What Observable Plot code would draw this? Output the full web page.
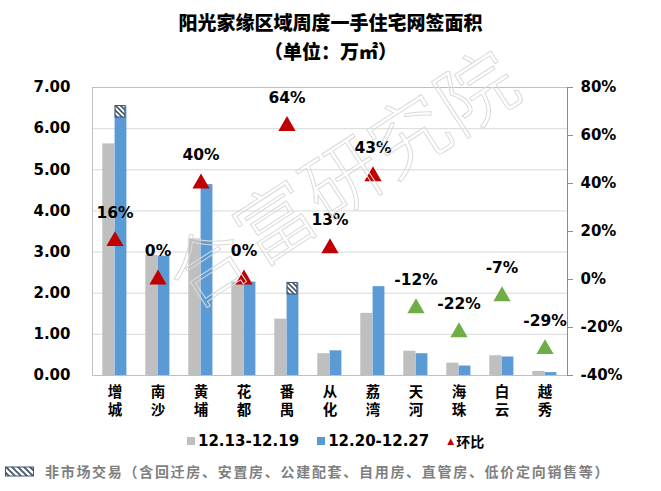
<!DOCTYPE html>
<html>
<head>
<meta charset="utf-8">
<script src="https://cdn.jsdelivr.net/npm/d3@7"></script>
<script src="https://cdn.jsdelivr.net/npm/@observablehq/plot@0.6"></script>
<style>
  html, body { margin: 0; padding: 0; background: #fff; }
  #wrap { position: relative; width: 661px; height: 491px; overflow: hidden; font-family: "DejaVu Sans", "Noto Sans CJK SC", sans-serif; }
  .title { position: absolute; left: 0; width: 661px; text-align: center; font-family: "Noto Sans CJK SC", sans-serif; font-weight: 900; font-size: 19px; color: #000; }
  #legend { position: absolute; top: 431px; left: 187px; font-weight: bold; font-size: 15px; white-space: nowrap; display: flex; align-items: center; }
  #legend .sw { display: inline-block; width: 8px; height: 8px; margin-right: 3px; }
  #legend .item { display: flex; align-items: center; margin-right: 18px; }
  #legend .cjk { font-family: "Noto Sans CJK SC", sans-serif; font-size: 14px; }
  #foot { position: absolute; top: 461px; left: 5px; display: flex; align-items: center; font-family: "Noto Sans CJK SC", sans-serif; font-weight: bold; font-size: 14px; color: #7f7f7f; letter-spacing: 1.7px; white-space: nowrap; }
  #watermark { position: absolute; left: 140px; top: 118px; transform: rotate(-33deg); transform-origin: 50% 50%; font-family: "Noto Sans CJK SC", sans-serif; font-size: 78px; font-weight: 300; color: transparent; -webkit-text-stroke: 1px #dadada; white-space: nowrap; pointer-events: none; letter-spacing: 2px; }
  #chart { position: absolute; left: 0; top: 0; }
</style>
</head>
<body>
<div id="wrap">
  <div id="chart"></div>
  <div class="title" style="top:8px">阳光家缘区域周度一手住宅网签面积</div>
  <div class="title" style="top:37px">（单位：万㎡）</div>
  <div id="watermark">合富研究院</div>
  <div id="legend"></div>
  <div id="foot"></div>
</div>
<script>
const categories = ["增城","南沙","黄埔","花都","番禺","从化","荔湾","天河","海珠","白云","越秀"];
const prevWeek   = [5.63, 2.92, 3.32, 2.27, 1.37, 0.53, 1.51, 0.59, 0.30, 0.48, 0.10];
const thisWeek   = [6.55, 2.90, 4.64, 2.27, 2.25, 0.60, 2.16, 0.53, 0.23, 0.45, 0.07];
const changePct  = [16, 0, 40, 0, 64, 13, 43, -12, -22, -7, -29];
const nonMarket  = ["增城","番禺"];
const seriesNames = ["12.13-12.19", "12.20-12.27", "环比"];
const leftTicks  = [0, 1, 2, 3, 4, 5, 6, 7];
const rightTicks = [-40, -20, 0, 20, 40, 60, 80];
const footnote = "非市场交易（含回迁房、安置房、公建配套、自用房、直管房、低价定向销售等）";

const GRAY = "#bfbfbf", BLUE = "#5b9bd5", RED = "#c00000", GREEN = "#70ad47";

// map the right (percent) axis onto the left scale domain
const yMax = leftTicks[leftTicks.length - 1];
const pMin = rightTicks[0], pMax = rightTicks[rightTicks.length - 1];
const toLeft = p => (p - pMin) * yMax / (pMax - pMin);
const toPct = v => v * (pMax - pMin) / yMax + pMin;

const data = categories.map((c, i) => ({
  cat: c, prev: prevWeek[i], cur: thisWeek[i], pct: changePct[i],
  yp: toLeft(changePct[i]), flag: nonMarket.includes(c)
}));

const half = 475 / categories.length / 2;

const svg = Plot.plot({
  width: 661, height: 491,
  marginTop: 87, marginBottom: 116, marginLeft: 92, marginRight: 94,
  style: { fontFamily: "DejaVu Sans, sans-serif", fontWeight: "bold", color: "#000", background: "transparent" },
  x: { domain: categories, padding: 0, label: null, axis: null },
  y: { domain: [0, yMax], label: null, axis: null },
  marks: [
    Plot.gridY(leftTicks, { stroke: "#d9d9d9", strokeOpacity: 1 }),
    Plot.frame({ stroke: "#bfbfbf" }),
    Plot.barY(data, { x: "cat", y: "prev", fill: GRAY, insetLeft: half - 12.3, insetRight: half }),
    Plot.barY(data, { x: "cat", y: "cur", fill: BLUE, insetLeft: half, insetRight: half - 12 }),
    Plot.rectY(data.filter(d => d.flag), { x: "cat", y1: d => d.cur - 0.28, y2: d => d.cur, fill: "url(#hatch)", stroke: "#44546a", strokeWidth: 1, insetLeft: half + 0.5, insetRight: half - 10.5 }),
    Plot.dot(data, { x: "cat", y: "yp", symbol: "triangle", r: 6.4, fill: d => d.pct >= 0 ? RED : GREEN, stroke: null }),
    Plot.text(data, { x: "cat", y: "yp", text: d => d.pct + "%", dy: -28, fontSize: 15.5, fontWeight: "bold", fill: "#000" }),
    Plot.axisY(leftTicks, { anchor: "left", tickSize: 0, tickPadding: 22, tickFormat: d3.format(".2f"), fontSize: 15, fontWeight: "bold", label: null }),
    Plot.axisY(rightTicks.map(toLeft), { anchor: "right", tickSize: 5, tickPadding: 8, stroke: "#8c8c8c", tickFormat: v => Math.round(toPct(v)) + "%", fontSize: 15, fontWeight: "bold", label: null }),
    Plot.frame({ anchor: "right", stroke: "#8c8c8c" }),
    Plot.axisX({ tickSize: 0, tickPadding: 11, tickFormat: d => d[0], fontSize: 14.5, fontFamily: "Noto Sans CJK SC", fontWeight: "bold", label: null }),
    Plot.axisX({ tickSize: 0, tickPadding: 29, tickFormat: d => d[1], fontSize: 14.5, fontFamily: "Noto Sans CJK SC", fontWeight: "bold", label: null })
  ]
});

// hatch pattern definition
const defs = d3.select(svg).insert("defs", ":first-child");
const pat = defs.append("pattern").attr("id", "hatch").attr("patternUnits", "userSpaceOnUse").attr("width", 5).attr("height", 5);
pat.append("rect").attr("width", 5).attr("height", 5).attr("fill", "#fff");
pat.append("path").attr("d", "M0,0L5,5M-1,4L1,6M4,-1L6,1").attr("stroke", "#44546a").attr("stroke-width", 1.6);

document.getElementById("chart").appendChild(svg);

// legend
const legend = d3.select("#legend");
const l1 = legend.append("div").attr("class", "item");
l1.append("span").attr("class", "sw").style("background", GRAY);
l1.append("span").text(seriesNames[0]);
const l2 = legend.append("div").attr("class", "item");
l2.append("span").attr("class", "sw").style("background", BLUE);
l2.append("span").text(seriesNames[1]);
const l3 = legend.append("div").attr("class", "item");
l3.append("span").style("color", RED).style("font-size", "9px").style("margin-right", "2px").text("▲");
l3.append("span").attr("class", "cjk").text(seriesNames[2]);

// footnote
const foot = d3.select("#foot");
foot.append("span").html('<svg width="30" height="11" style="display:block;margin-right:10px"><defs><pattern id="hatch2" patternUnits="userSpaceOnUse" width="6" height="6"><rect width="6" height="6" fill="#fff"/><path d="M0,0L6,6M-1,5L1,7M5,-1L7,1" stroke="#44546a" stroke-width="1.8"/></pattern></defs><rect x="0.5" y="1" width="28" height="9" fill="url(#hatch2)" stroke="#44546a"/></svg>');
foot.append("span").text(footnote);
</script>
</body>
</html>
